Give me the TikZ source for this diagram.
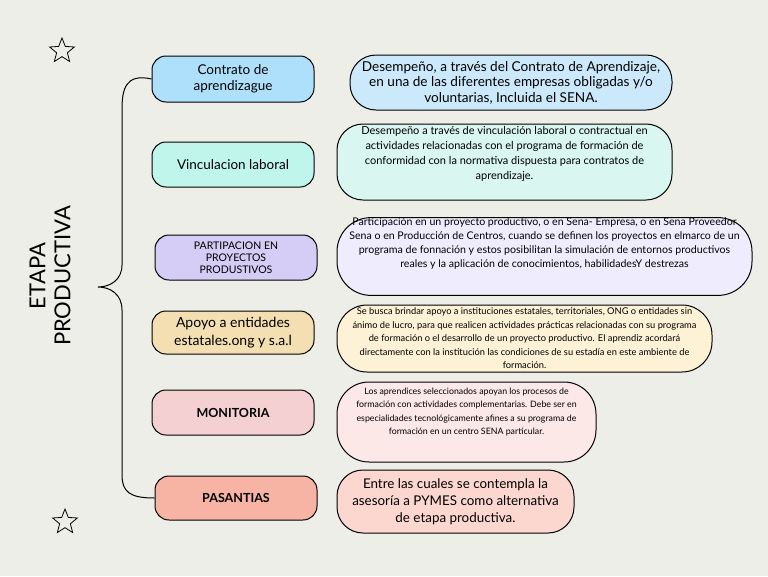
\documentclass[tikz,border=0pt]{standalone}
\usepackage{fontspec}
\setmainfont{Lato}
\usetikzlibrary{shapes.geometric}
\definecolor{bg}{HTML}{EEEEE8}
\tikzset{lb/.style={draw=black,line width=1pt,rounded corners=14pt,align=center,inner sep=0pt},
 rb/.style={draw=black,line width=1pt,rounded corners=26pt,align=center,inner sep=0pt},
 starry/.style={star,star points=5,star point ratio=2.3,draw,line width=0.8pt,minimum size=26pt,inner sep=0pt}}
\begin{document}
\begin{tikzpicture}[x=1pt,y=-1pt]
\fill[bg] (0,0) rectangle (768,576);
\useasboundingbox (0,0) rectangle (768,576);
\node[lb,fill={rgb,255:red,174;green,224;blue,251},minimum width=162pt,minimum height=46pt,font=\fontsize{13.5}{15.5}\selectfont] (l1) at (233,79) {Contrato de\\aprendizague};
\node[lb,fill={rgb,255:red,191;green,245;blue,234},minimum width=162pt,minimum height=45pt,font=\fontsize{13.5}{15}\selectfont] (l2) at (233,164.5) {Vinculacion laboral};
\node[lb,fill={rgb,255:red,213;green,205;blue,245},minimum width=162pt,minimum height=45pt,font=\fontsize{10.5}{12}\selectfont] (l3) at (236,257.5) {PARTIPACION EN\\PROYECTOS\\PRODUSTIVOS};
\node[lb,fill={rgb,255:red,243;green,223;blue,178},minimum width=162pt,minimum height=43pt,font=\fontsize{14}{18}\selectfont] (l4) at (233,332.5) {Apoyo a entidades\\estatales.ong y s.a.l};
\node[lb,fill={rgb,255:red,245;green,208;blue,211},minimum width=162pt,minimum height=45pt,font=\bfseries\fontsize{12.5}{14}\selectfont] (l5) at (233,412.5) {MONITORIA};
\node[lb,fill={rgb,255:red,247;green,179;blue,163},minimum width=162pt,minimum height=44pt,font=\bfseries\fontsize{12.5}{14}\selectfont] (l6) at (236,498) {PASANTIAS};

\node[rb,fill={rgb,255:red,204;green,233;blue,251},minimum width=322pt,minimum height=55pt,font=\fontsize{13.6}{15.5}\selectfont] (r1) at (511,82.5) {Desempeño, a través del Contrato de Aprendizaje,\\en una de las diferentes empresas obligadas y/o\\voluntarias, Incluida el SENA.};
\node[rb,fill={rgb,255:red,217;green,247;blue,240},minimum width=335pt,minimum height=76pt,font=\fontsize{11}{15}\selectfont] (r2) at (504.5,162) {Desempeño a través de vinculación laboral o contractual en\\actividades relacionadas con el programa de formación de\\conformidad con la normativa dispuesta para contratos de\\aprendizaje.\\[4pt]};
\node[rb,rounded corners=34pt,fill={rgb,255:red,239;green,237;blue,253},minimum width=415pt,minimum height=77pt,font=\fontsize{10.6}{14}\selectfont] (r3) at (544.5,256.5) {Participación en un proyecto productivo, o en Sena- Empresa, o en Sena Proveedor\\Sena o en Producción de Centros, cuando se definen los proyectos en elmarco de un\\programa de fonnación y estos posibilitan la simulación de entornos productivos\\reales y la aplicación de conocimientos, habilidadesY destrezas\\[14pt]};
\node[rb,rounded corners=30pt,fill={rgb,255:red,253;green,241;blue,214},minimum width=375pt,minimum height=67pt,font=\fontsize{9.3}{13.5}\selectfont] (r4) at (524.5,338.5) {Se busca brindar apoyo a instituciones estatales, territoriales, ONG o entidades sin\\ánimo de lucro, para que realicen actividades prácticas relacionadas con su programa\\de formación o el desarrollo de un proyecto productivo. El aprendiz acordará\\directamente con la institución las condiciones de su estadía en este ambiente de\\formación.};
\node[rb,rounded corners=32pt,fill={rgb,255:red,253;green,232;blue,232},minimum width=259pt,minimum height=80pt,font=\fontsize{8.8}{13.5}\selectfont] (r5) at (466.5,422) {Los aprendices seleccionados apoyan los procesos de\\formación con actividades complementarias. Debe ser en\\especialidades tecnológicamente afines a su programa de\\formación en un centro SENA particular.\\[8pt]};
\node[rb,fill={rgb,255:red,252;green,215;blue,207},minimum width=237pt,minimum height=63pt,font=\fontsize{13.4}{17}\selectfont] (r6) at (455.5,501.5) {Entre las cuales se contempla la\\asesoría a PYMES como alternativa\\de etapa productiva.};

\coordinate (bt) at (l1.west);
\coordinate (bb) at (l6.west);
\coordinate (tip) at (98,287);
\draw[line width=1pt] (bt) .. controls (125,73) and (122,90) .. (122,110) -- (122,265) .. controls (122,280) and (110,287) .. (tip) .. controls (110,287) and (122,294) .. (122,310) -- (122,475) .. controls (122,492) and (130,498) .. (bb);

\node[rotate=90,align=center,font=\fontsize{22}{25}\selectfont] (title) at (50,276) {ETAPA\\PRODUCTIVA};
\node[starry] (s1) at (62,51) {};
\node[starry] (s2) at (65,522) {};
\end{tikzpicture}
\end{document}
